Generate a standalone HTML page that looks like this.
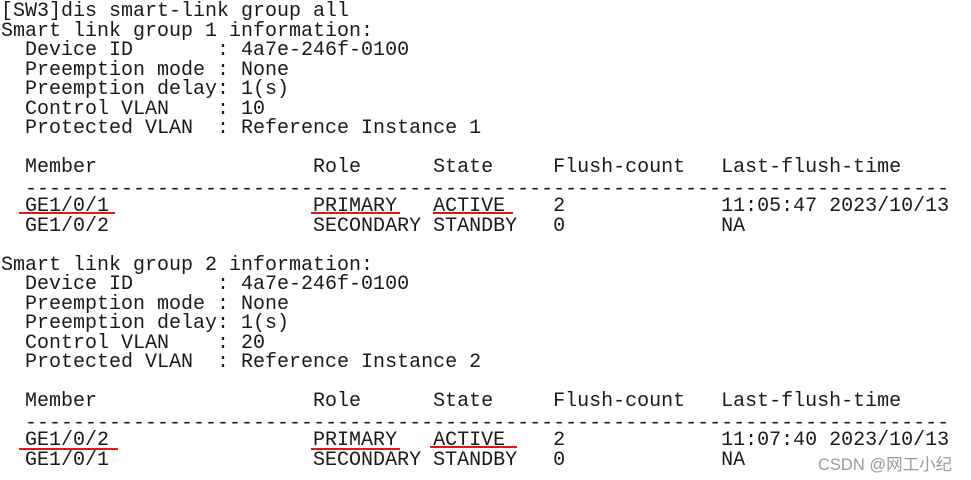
<!DOCTYPE html>
<html><head><meta charset="utf-8"><style>
html,body{margin:0;padding:0;background:#fff;width:971px;height:480px;overflow:hidden;position:relative}
pre{position:absolute;left:1px;top:2px;margin:0;font-family:"Liberation Mono",monospace;font-size:20px;line-height:19.5px;color:#1a1a1a;letter-spacing:0}
.d{position:relative;top:2px}
.u{position:absolute;height:2px;background:#e0161a}
.wm{position:absolute;left:818px;top:451px;font-family:"Liberation Sans","Noto Sans CJK SC",sans-serif;font-size:16.5px;color:#9a9a9a}
</style></head><body>
<pre>[SW3]dis smart-link group all
Smart link group 1 information:
  Device ID       : 4a7e-246f-0100
  Preemption mode : None
  Preemption delay: 1(s)
  Control VLAN    : 10
  Protected VLAN  : Reference Instance 1

  Member                  Role      State     Flush-count   Last-flush-time
  <span class="d">-----------------------------------------------------------------------------</span>
  GE1/0/1                 PRIMARY   ACTIVE    2             11:05:47 2023/10/13
  GE1/0/2                 SECONDARY STANDBY   0             NA

Smart link group 2 information:
  Device ID       : 4a7e-246f-0100
  Preemption mode : None
  Preemption delay: 1(s)
  Control VLAN    : 20
  Protected VLAN  : Reference Instance 2

  Member                  Role      State     Flush-count   Last-flush-time
  <span class="d">-----------------------------------------------------------------------------</span>
  GE1/0/2                 PRIMARY   ACTIVE    2             11:07:40 2023/10/13
  GE1/0/1                 SECONDARY STANDBY   0             NA</pre>
<div class="u" style="left:19px;top:212px;width:96px"></div>
<div class="u" style="left:311px;top:212px;width:89px"></div>
<div class="u" style="left:433px;top:212px;width:80px"></div>
<div class="u" style="left:19px;top:448px;width:99px"></div>
<div class="u" style="left:311px;top:448px;width:89px"></div>
<div class="u" style="left:430px;top:446px;width:87px"></div>
<div class="wm">CSDN @网工小纪</div>
</body></html>
